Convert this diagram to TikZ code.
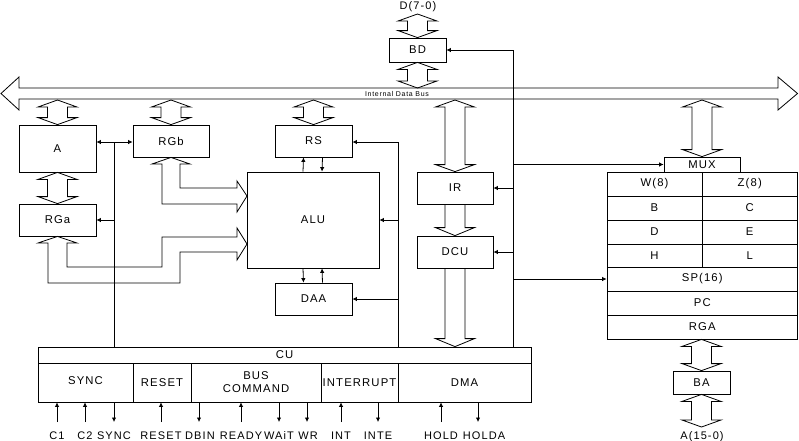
\documentclass[tikz,border=0pt]{standalone}
\usepackage{fontspec}
\setmainfont{Liberation Sans}[LetterSpace=10]
\usetikzlibrary{arrows.meta,calc}
\newcommand\mybox[6]{\node[box, minimum width={#4-#2}, minimum height={#5-#3}] (#1) at ({(#2+#4)/2},{(#3+#5)/2}) {#6};}
\newcommand\dblarr[2]{\draw[busline] (#1) -- ($(#1)+(19.5,7)$) -- ($(#1)+(10,7)$) -- ($(#2)+(10,-7)$) -- ($(#2)+(19.5,-7)$) -- (#2) -- ($(#2)+(-19.5,-7)$) -- ($(#2)+(-10,-7)$) -- ($(#1)+(-10,7)$) -- ($(#1)+(-19.5,7)$) -- cycle;}
\newcommand\sglarr[2]{\draw[busline] ($(#1)+(-10,0)$) -- ($(#2)+(-10,-8)$) -- ($(#2)+(-19.5,-8)$) -- (#2) -- ($(#2)+(19.5,-8)$) -- ($(#2)+(10,-8)$) -- ($(#1)+(10,0)$);}
\begin{document}
\begin{tikzpicture}[x=1pt,y=-1pt,line width=0.8pt,
  box/.style={draw, inner sep=0pt, align=center, font=\fontsize{11.3}{13}\selectfont},
  lbl/.style={inner sep=0pt, anchor=base, font=\fontsize{11}{13}\selectfont},
  sig/.style={-{Latex[length=4.5pt,width=4.5pt]}},
  busline/.style={line join=miter}]
\fill[white] (0,0) rectangle (799,440);
\useasboundingbox (0,0) rectangle (799,440);

% internal data bus
\draw[busline] (1,93.5) -- (19,77) -- (19,88) -- (778,88) -- (778,77) -- (797.5,93.5) -- (778,110) -- (778,99) -- (19,99) -- (19,110) -- cycle;
\node[inner sep=0pt, font=\fontsize{7}{7}\selectfont] (busl) at (397,93.5) {Internal Data Bus};
\coordinate (busN) at (0,88);
\coordinate (busS) at (0,100);
\coordinate (dtop) at (0,14);
\coordinate (atop) at (0,427);
\coordinate (stop) at (0,422);

% boxes
\mybox{BD}{389}{38}{446}{62}{BD}
\mybox{A}{19}{125}{96}{172}{A}
\mybox{RGb}{133}{125}{209}{157}{RGb}
\mybox{RS}{275}{125}{352}{157}{RS}
\mybox{RGa}{19}{204}{96}{236}{RGa}
\mybox{ALU}{247}{172}{379}{268}{ALU}
\mybox{DAA}{275}{283}{352}{315}{DAA}
\mybox{IR}{417}{172}{493}{204}{IR}
\mybox{DCU}{417}{236}{493}{268}{DCU}
\mybox{MUX}{664}{157}{740}{172}{MUX}
% register file
\mybox{rW}{607}{172}{702}{196}{W(8)}
\mybox{rZ}{702}{172}{797.5}{196}{Z(8)}
\mybox{rB}{607}{196}{702}{220}{B}
\mybox{rC}{702}{196}{797.5}{220}{C}
\mybox{rD}{607}{220}{702}{244}{D}
\mybox{rE}{702}{220}{797.5}{244}{E}
\mybox{rH}{607}{244}{702}{267}{H}
\mybox{rL}{702}{244}{797.5}{267}{L}
\mybox{SP}{607}{267}{797.5}{291}{SP(16)}
\mybox{PC}{607}{291}{797.5}{315}{PC}
\mybox{RGA}{607}{315}{797.5}{339}{RGA}
% control unit
\mybox{CU}{38}{347}{531}{363}{CU}
\mybox{cSYNC}{38}{363}{133}{402}{\raisebox{3pt}{SYNC}}
\mybox{cRESET}{133}{363}{191}{402}{RESET}
\mybox{cBUS}{191}{363}{321}{402}{BUS\\COMMAND}
\mybox{cINT}{321}{363}{398}{402}{INTERRUPT}
\mybox{cDMA}{398}{363}{531}{402}{DMA}
\mybox{BA}{673}{371}{730}{394}{BA}

\node[lbl, anchor=center] (lD) at (418,7) {D(7-0)};
\node[lbl] (lA) at (702,439) {A(15-0)};

% wide bus arrows
\dblarr{BD.north |- dtop}{BD.north}
\dblarr{BD.south}{BD.south |- busN}
\dblarr{A.north |- busS}{A.north}
\dblarr{RGb.north |- busS}{RGb.north}
\dblarr{RS.north |- busS}{RS.north}
\dblarr{IR.north |- busS}{IR.north}
\dblarr{MUX.north |- busS}{MUX.north}
\dblarr{A.south}{RGa.north}
\dblarr{RGA.south -| BA.north}{BA.north}
\dblarr{BA.south}{BA.south |- atop}
\sglarr{IR.south}{DCU.north}
\sglarr{DCU.south}{DCU.south |- CU.north}

% bent arrows to ALU
\draw[busline] (RGb.south) -- (190,164) -- (180,164) -- (180,188) -- (237,188) -- (237,181) -- (247,196) -- (237,212) -- (237,204) -- (162,204) -- (162,164) -- (152,164) -- cycle;
\draw[busline] (RGa.south) -- (77,243) -- (67,243) -- (67,267) -- (162,267) -- (162,237) -- (237,237) -- (237,228) -- (247,244) -- (237,260) -- (237,252) -- (180,252) -- (180,283) -- (48,283) -- (48,243) -- (38,243) -- cycle;

% control lines
\coordinate (j1) at (114,142);
\draw[sig] (j1) -- (j1 -| A.east);
\draw[sig] (j1) -- (j1 -| RGb.west);
\draw (j1) -- (j1 |- CU.north);
\draw[sig] (j1 |- RGa.east) -- (RGa.east);

\coordinate (j2) at (398,142);
\draw[sig] (j2) -- (j2 -| RS.east);
\draw (j2) -- (j2 |- CU.north);
\draw[sig] (j2 |- ALU.east) -- (ALU.east);
\draw[sig] (j2 |- DAA.east) -- (DAA.east);

\coordinate (j3) at (513,50);
\draw[sig] (j3) -- (BD.east);
\draw (j3) -- (j3 |- CU.north);
\draw[sig] (j3 |- MUX.west) -- (MUX.west);
\draw[sig] (j3 |- IR.east) -- (IR.east);
\draw[sig] (j3 |- DCU.east) -- (DCU.east);
\draw[sig] (j3 |- SP.west) -- (SP.west);

\draw[sig] ([xshift=-10pt]ALU.north) -- ([xshift=-10pt]RS.south);
\draw[sig] ([xshift=9pt]RS.south) -- ([xshift=9pt]ALU.north);
\draw[sig] ([xshift=-10pt]ALU.south) -- ([xshift=-10pt]DAA.north);
\draw[sig] ([xshift=9pt]DAA.north) -- ([xshift=9pt]ALU.south);

% external signals
\node[lbl] (sC1) at (57,439) {C1};
\node[lbl] (sC2) at (85,439) {C2};
\node[lbl] (sSYNC) at (114,439) {SYNC};
\node[lbl] (sRESET) at (161,439) {RESET};
\node[lbl] (sDBIN) at (200,439) {DBIN};
\node[lbl] (sREADY) at (241,439) {READY};
\node[lbl] (sWAIT) at (279,439) {WAiT};
\node[lbl] (sWR) at (308,439) {WR};
\node[lbl] (sINT) at (341,439) {INT};
\node[lbl] (sINTE) at (378,439) {INTE};
\node[lbl] (sHOLD) at (441,439) {HOLD};
\node[lbl] (sHOLDA) at (484,439) {HOLDA};

\draw[sig] (sC1 |- stop) -- (sC1 |- cSYNC.south);
\draw[sig] (sC2 |- stop) -- (sC2 |- cSYNC.south);
\draw[sig] (sSYNC |- cSYNC.south) -- (sSYNC |- stop);
\draw[sig] (sRESET |- stop) -- (sRESET |- cRESET.south);
\draw[sig] ([xshift=-1pt]sDBIN |- cBUS.south) -- ([xshift=-1pt]sDBIN |- stop);
\draw[sig] (sREADY |- stop) -- (sREADY |- cBUS.south);
\draw[sig] (sWAIT |- cBUS.south) -- (sWAIT |- stop);
\draw[sig] ([xshift=-1pt]sWR |- cBUS.south) -- ([xshift=-1pt]sWR |- stop);
\draw[sig] (sINT |- stop) -- (sINT |- cINT.south);
\draw[sig] (sINTE |- cINT.south) -- (sINTE |- stop);
\draw[sig] (sHOLD |- stop) -- (sHOLD |- cDMA.south);
\draw[sig] ([xshift=-6pt]sHOLDA |- cDMA.south) -- ([xshift=-6pt]sHOLDA |- stop);
\end{tikzpicture}
\end{document}
